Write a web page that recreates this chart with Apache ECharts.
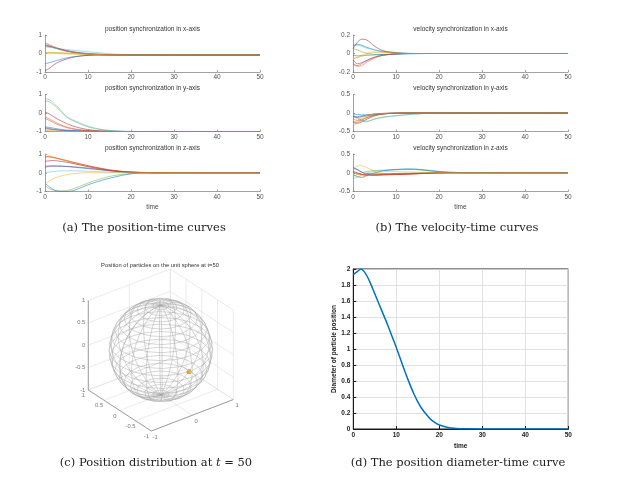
<!DOCTYPE html>
<html>
<head>
<meta charset="utf-8">
<script src="https://cdn.jsdelivr.net/npm/echarts@6/dist/echarts.min.js"></script>
<style>
  html, body { margin: 0; padding: 0; background: #fff; }
  #chart { width: 627px; height: 490px; }
</style>
</head>
<body>
<div id="chart"></div>
<script>
// sample times of the synchronization curves
var times = [0, 1, 2, 3, 5, 7, 10, 13, 16, 20, 25, 50];

// positions, one row per particle
var posX = [
  [0.40, 0.37, 0.32, 0.26, 0.16, 0.08, 0.00, -0.04, -0.06, -0.08, -0.08, -0.08],
  [0.50, 0.42, 0.33, 0.25, 0.12, 0.04, -0.03, -0.06, -0.07, -0.08, -0.08, -0.08],
  [0.01, 0.00, 0.00, -0.01, -0.03, -0.04, -0.06, -0.07, -0.08, -0.08, -0.08, -0.08],
  [0.45, 0.40, 0.33, 0.26, 0.14, 0.06, -0.02, -0.05, -0.07, -0.08, -0.08, -0.08],
  [0.05, 0.05, 0.04, 0.03, 0.01, -0.01, -0.04, -0.06, -0.07, -0.08, -0.08, -0.08],
  [0.35, 0.33, 0.30, 0.27, 0.22, 0.17, 0.10, 0.03, -0.03, -0.07, -0.08, -0.08],
  [-0.92, -0.80, -0.62, -0.48, -0.30, -0.18, -0.10, -0.08, -0.08, -0.08, -0.08, -0.08],
  [-0.55, -0.50, -0.43, -0.36, -0.24, -0.16, -0.10, -0.08, -0.08, -0.08, -0.08, -0.08],
  [0.58, 0.48, 0.38, 0.29, 0.15, 0.06, -0.02, -0.06, -0.07, -0.08, -0.08, -0.08],
  [0.05, 0.06, 0.06, 0.05, 0.03, 0.01, -0.03, -0.06, -0.07, -0.08, -0.08, -0.08]
];
var posY = [
  [-0.85, -0.88, -0.91, -0.93, -0.96, -0.98, -0.99, -1, -1, -1, -1, -1],
  [-0.20, -0.32, -0.45, -0.57, -0.75, -0.86, -0.95, -0.99, -1, -1, -1, -1],
  [-0.97, -0.97, -0.98, -0.98, -0.99, -0.99, -1, -1, -1, -1, -1, -1],
  [-0.80, -0.84, -0.88, -0.91, -0.95, -0.97, -0.99, -1, -1, -1, -1, -1],
  [0.66, 0.60, 0.44, 0.25, -0.22, -0.47, -0.75, -0.90, -0.97, -1, -1, -1],
  [0.77, 0.72, 0.55, 0.32, -0.18, -0.42, -0.71, -0.88, -0.96, -1, -1, -1],
  [0.05, -0.05, -0.20, -0.34, -0.57, -0.74, -0.90, -0.97, -0.99, -1, -1, -1],
  [-0.75, -0.78, -0.82, -0.86, -0.92, -0.95, -0.98, -0.99, -1, -1, -1, -1],
  [-0.30, -0.40, -0.52, -0.63, -0.79, -0.89, -0.96, -0.99, -1, -1, -1, -1],
  [-0.95, -0.96, -0.97, -0.98, -0.99, -1, -1, -1, -1, -1, -1, -1]
];
var posZ = [
  [0.35, 0.37, 0.37, 0.36, 0.33, 0.29, 0.22, 0.15, 0.08, 0.02, 0, 0],
  [0.85, 0.84, 0.80, 0.75, 0.64, 0.53, 0.37, 0.23, 0.12, 0.04, 0.01, 0],
  [1.00, 0.93, 0.84, 0.76, 0.61, 0.48, 0.32, 0.19, 0.09, 0.03, 0, 0],
  [0.30, 0.33, 0.35, 0.35, 0.34, 0.31, 0.25, 0.17, 0.09, 0.03, 0, 0],
  [-0.70, -0.85, -0.93, -0.97, -0.95, -0.82, -0.55, -0.32, -0.15, -0.04, 0, 0],
  [0.00, 0.04, 0.07, 0.09, 0.10, 0.10, 0.08, 0.05, 0.02, 0, 0, 0],
  [0.60, 0.64, 0.65, 0.63, 0.56, 0.47, 0.33, 0.21, 0.10, 0.03, 0, 0],
  [-0.55, -0.75, -0.90, -0.98, -1.00, -0.92, -0.64, -0.42, -0.24, -0.06, -0.01, 0],
  [0.85, 0.86, 0.82, 0.77, 0.66, 0.54, 0.38, 0.24, 0.12, 0.04, 0.01, 0],
  [-0.60, -0.45, -0.32, -0.22, -0.10, -0.04, 0, 0, 0, 0, 0, 0]
];

// velocities, one row per particle
var velX = [
  [0.08, 0.10, 0.09, 0.07, 0.04, 0.02, 0.005, 0, 0, 0, 0, 0],
  [-0.12, -0.13, -0.11, -0.08, -0.04, -0.015, -0.003, 0, 0, 0, 0, 0],
  [-0.06, -0.04, -0.02, 0, 0.02, 0.015, 0.005, 0, 0, 0, 0, 0],
  [-0.07, -0.11, -0.10, -0.08, -0.04, -0.02, -0.005, 0, 0, 0, 0, 0],
  [0.05, 0.04, 0.02, 0.005, -0.01, -0.01, -0.005, 0, 0, 0, 0, 0],
  [0.09, 0.09, 0.08, 0.06, 0.04, 0.025, 0.012, 0.004, 0, 0, 0, 0],
  [0.05, 0.12, 0.155, 0.15, 0.08, 0.03, 0.008, 0, 0, 0, 0, 0],
  [-0.02, -0.025, -0.025, -0.02, -0.015, -0.012, -0.008, -0.004, -0.001, 0, 0, 0],
  [-0.10, -0.14, -0.13, -0.10, -0.05, -0.02, -0.004, 0, 0, 0, 0, 0],
  [-0.05, -0.045, -0.03, -0.015, 0.01, 0.01, 0.004, 0, 0, 0, 0, 0]
];
var velY = [
  [-0.02, -0.04, -0.05, -0.05, -0.03, -0.015, -0.005, 0, 0, 0, 0, 0],
  [-0.22, -0.25, -0.20, -0.14, -0.06, -0.02, -0.005, 0, 0, 0, 0, 0],
  [-0.38, -0.25, -0.15, -0.10, -0.05, -0.02, -0.005, 0, 0, 0, 0, 0],
  [-0.08, -0.10, -0.08, -0.06, -0.03, -0.01, 0, 0, 0, 0, 0, 0],
  [-0.08, -0.15, -0.21, -0.24, -0.16, -0.11, -0.07, -0.04, -0.015, 0, 0, 0],
  [-0.05, -0.12, -0.19, -0.22, -0.17, -0.12, -0.08, -0.045, -0.02, -0.003, 0, 0],
  [-0.25, -0.28, -0.24, -0.18, -0.08, -0.03, -0.008, 0, 0, 0, 0, 0],
  [-0.10, -0.12, -0.10, -0.08, -0.04, -0.02, -0.005, 0, 0, 0, 0, 0],
  [-0.15, -0.20, -0.18, -0.13, -0.06, -0.02, -0.005, 0, 0, 0, 0, 0],
  [-0.30, -0.20, -0.12, -0.07, -0.03, -0.01, 0, 0, 0, 0, 0, 0]
];
var velZ = [
  [0.14, 0.09, 0.02, -0.03, -0.04, -0.04, -0.03, -0.02, -0.01, 0, 0, 0],
  [0.00, -0.03, -0.05, -0.06, -0.06, -0.05, -0.045, -0.035, -0.02, -0.005, 0, 0],
  [0.10, 0.18, 0.19, 0.15, 0.04, -0.02, -0.03, -0.02, -0.01, 0, 0, 0],
  [0.12, 0.08, 0.02, -0.02, -0.03, -0.03, -0.02, -0.015, -0.01, 0, 0, 0],
  [-0.10, -0.05, 0.00, 0.03, 0.06, 0.07, 0.08, 0.09, 0.07, 0.02, 0, 0],
  [-0.16, -0.12, -0.06, -0.01, 0.04, 0.06, 0.08, 0.10, 0.09, 0.04, 0.005, 0],
  [0.04, 0.00, -0.04, -0.06, -0.07, -0.06, -0.05, -0.04, -0.02, -0.005, 0, 0],
  [-0.05, -0.10, -0.12, -0.08, 0.00, 0.05, 0.09, 0.10, 0.08, 0.03, 0.005, 0],
  [0.02, -0.02, -0.05, -0.06, -0.06, -0.05, -0.04, -0.03, -0.02, -0.005, 0, 0],
  [-0.04, -0.10, -0.13, -0.10, -0.02, 0.03, 0.03, 0.02, 0.01, 0, 0, 0]
];

// diameter of the particle positions
var diamT = [0, 1, 1.8, 2.5, 3.3, 4, 5, 6, 7, 8, 9, 10, 11, 12, 13, 14, 15, 16, 17, 18, 19, 20, 22, 24, 26, 30, 50];
var diamV = [1.93, 1.97, 2.0, 1.97, 1.90, 1.82, 1.69, 1.56, 1.43, 1.30, 1.16, 1.02, 0.87, 0.72, 0.58, 0.45, 0.34, 0.25, 0.18, 0.12, 0.08, 0.05, 0.02, 0.007, 0.002, 0, 0];

// 3d box ticks for the sphere plot
var ticksX = [-1, 0, 1];
var ticksY = [-1, -0.5, 0, 0.5, 1];
var ticksZ = [-1, -0.5, 0, 0.5, 1];
var sphereN = 20;

var colors = ['#0072BD', '#D95319', '#EDB120', '#7E2F8E', '#77AC30', '#4DBEEE', '#A2142F', '#0072BD', '#D95319', '#EDB120'];
var font = 'Liberation Sans, Arial, sans-serif';

var panels = [
  { title: 'position synchronization in x-axis', rows: posX, left: 45, top: 35, h: 37, lim: 1 },
  { title: 'position synchronization in y-axis', rows: posY, left: 45, top: 94.5, h: 37, lim: 1 },
  { title: 'position synchronization in z-axis', rows: posZ, left: 45, top: 154, h: 37.5, lim: 1, time: true },
  { title: 'velocity synchronization in x-axis', rows: velX, left: 353, top: 35, h: 37, lim: 0.2 },
  { title: 'velocity synchronization in y-axis', rows: velY, left: 353, top: 94.5, h: 37, lim: 0.5 },
  { title: 'velocity synchronization in z-axis', rows: velZ, left: 353, top: 154, h: 37.5, lim: 0.5, time: true }
];

// MATLAB default view az=-37.5, el=30, orthographic
function proj(p) {
  var az = -37.5 * Math.PI / 180, el = 30 * Math.PI / 180;
  var sx = p[0] * Math.cos(az) + p[1] * Math.sin(az);
  var sy = -p[0] * Math.sin(az) * Math.sin(el) + p[1] * Math.cos(az) * Math.sin(el) + p[2] * Math.cos(el);
  return [sx, sy];
}
function seg(list, a, b) {
  list.push(proj(a), proj(b), ['-', '-']);
}

var grids = [], xAxes = [], yAxes = [], series = [], graphics = [];

function txt(x, y, text, size, opts) {
  opts = opts || {};
  graphics.push({
    type: 'text', x: x, y: y, silent: true,
    style: Object.assign({
      text: text, fontSize: size, fontFamily: opts.family || font, fill: opts.fill || '#333',
      textAlign: 'center', textVerticalAlign: 'middle', align: 'center', verticalAlign: 'middle'
    }, opts.style || {})
  });
}

panels.forEach(function (p, gi) {
  grids.push({ left: p.left, top: p.top, width: 215, height: p.h });
  xAxes.push({
    gridIndex: gi, type: 'value', min: 0, max: 50, interval: 10,
    name: p.time ? 'time' : '', nameLocation: 'middle', nameGap: 12.5,
    nameTextStyle: { fontSize: 6.5, color: '#444', fontFamily: font },
    axisLine: { onZero: false, lineStyle: { color: '#8a8a8a', width: 0.8 } },
    axisTick: { inside: true, length: 2, lineStyle: { color: '#8a8a8a', width: 0.8 } },
    axisLabel: { fontSize: 6.5, color: '#555', margin: 2, fontFamily: font },
    splitLine: { show: false }
  });
  yAxes.push({
    gridIndex: gi, type: 'value', min: -p.lim, max: p.lim, interval: p.lim,
    axisLine: { show: true, lineStyle: { color: '#8a8a8a', width: 0.8 } },
    axisTick: { show: true, inside: true, length: 2, lineStyle: { color: '#8a8a8a', width: 0.8 } },
    axisLabel: { fontSize: 6.5, color: '#555', margin: 3, fontFamily: font },
    splitLine: { show: false }
  });
  p.rows.forEach(function (row, i) {
    series.push({
      type: 'line', xAxisIndex: gi, yAxisIndex: gi, smooth: 0.35, showSymbol: false,
      lineStyle: { width: 0.7, color: colors[i], opacity: 0.75 },
      data: times.map(function (t, k) { return [t, row[k]]; })
    });
  });
  txt(p.left + 107.5, p.top - 6, p.title, 6.5, { fill: '#333' });
});

// sphere plot (grid 6): 1 unit = 51.7 px, centre at (160.8, 350)
var u = 51.7;
grids.push({ left: 160.8 - 2 * u, top: 350 - 2 * u, width: 4 * u, height: 4 * u });
xAxes.push({ gridIndex: 6, type: 'value', min: -2, max: 2, show: false });
yAxes.push({ gridIndex: 6, type: 'value', min: -2, max: 2, show: false });

var boxGrid = [], boxAxes = [], wire = [];
ticksX.forEach(function (x) {
  seg(boxGrid, [x, -1, -1], [x, 1, -1]);
  seg(boxGrid, [x, 1, -1], [x, 1, 1]);
});
ticksY.forEach(function (y) {
  seg(boxGrid, [-1, y, -1], [1, y, -1]);
  seg(boxGrid, [1, y, -1], [1, y, 1]);
});
ticksZ.forEach(function (z) {
  seg(boxGrid, [-1, 1, z], [1, 1, z]);
  seg(boxGrid, [1, -1, z], [1, 1, z]);
});
seg(boxAxes, [-1, -1, -1], [1, -1, -1]);
seg(boxAxes, [-1, -1, -1], [-1, 1, -1]);
seg(boxAxes, [-1, 1, -1], [-1, 1, 1]);

for (var j = 0; j <= sphereN; j++) {
  var th = -Math.PI + 2 * Math.PI * j / sphereN;
  for (var k = 0; k <= sphereN; k++) {
    var ph = -Math.PI / 2 + Math.PI * k / sphereN;
    wire.push(proj([Math.cos(ph) * Math.cos(th), Math.cos(ph) * Math.sin(th), Math.sin(ph)]));
  }
  wire.push(['-', '-']);
}
for (var k2 = 1; k2 < sphereN; k2++) {
  var ph2 = -Math.PI / 2 + Math.PI * k2 / sphereN;
  for (var j2 = 0; j2 <= sphereN; j2++) {
    var th2 = -Math.PI + 2 * Math.PI * j2 / sphereN;
    wire.push(proj([Math.cos(ph2) * Math.cos(th2), Math.cos(ph2) * Math.sin(th2), Math.sin(ph2)]));
  }
  wire.push(['-', '-']);
}

series.push({
  type: 'line', xAxisIndex: 6, yAxisIndex: 6, showSymbol: false, silent: true,
  lineStyle: { color: '#e3e3e3', width: 0.7 }, data: boxGrid
});
series.push({
  type: 'line', xAxisIndex: 6, yAxisIndex: 6, showSymbol: false, silent: true,
  lineStyle: { color: '#a3a3a3', width: 0.45 }, data: wire
});
series.push({
  type: 'line', xAxisIndex: 6, yAxisIndex: 6, showSymbol: false, silent: true,
  lineStyle: { color: '#8a8a8a', width: 0.8 }, data: boxAxes
});

// tick labels of the 3d box
var tickLabels = [];
ticksZ.forEach(function (z) { tickLabels.push({ value: proj([-1, 1, z]), name: String(z), label: { position: 'left', distance: 3 } }); });
ticksY.forEach(function (y) { tickLabels.push({ value: proj([-1.12, y, -1.08]), name: String(y) }); });
ticksX.forEach(function (x) { tickLabels.push({ value: proj([x, -1.12, -1.08]), name: String(x) }); });
series.push({
  type: 'scatter', xAxisIndex: 6, yAxisIndex: 6, symbolSize: 0, silent: true,
  label: { show: true, position: 'inside', formatter: '{b}', fontSize: 5.8, color: '#555', fontFamily: font },
  data: tickLabels
});

// final particle positions at t = 50
var last = times.length - 1;
series.push({
  type: 'scatter', xAxisIndex: 6, yAxisIndex: 6, symbolSize: 4.5, silent: true,
  itemStyle: { color: '#F0A818' },
  data: posX.map(function (row, i) { return proj([row[last], posY[i][last], posZ[i][last]]); })
});
txt(160, 265.7, 'Position of particles on the unit sphere at t=50', 5.8, { fill: '#333' });

// diameter plot (grid 7)
grids.push({ left: 353.3, top: 269, width: 215, height: 160, show: true, borderColor: '#1a1a1a', borderWidth: 1 });
xAxes.push({
  gridIndex: 7, type: 'value', min: 0, max: 50, interval: 10,
  name: 'time', nameLocation: 'middle', nameGap: 14,
  nameTextStyle: { fontSize: 6.5, fontWeight: 'bold', color: '#222', fontFamily: font },
  axisLine: { onZero: false, lineStyle: { color: '#1a1a1a', width: 1 } },
  axisTick: { inside: true, length: 3, lineStyle: { color: '#1a1a1a' } },
  axisLabel: { fontSize: 6.5, fontWeight: 'bold', color: '#222', margin: 3, fontFamily: font },
  splitLine: { show: true, lineStyle: { color: '#d9d9d9', width: 0.8 } }
});
yAxes.push({
  gridIndex: 7, type: 'value', min: 0, max: 2, interval: 0.2,
  name: 'Diameter of particle position', nameLocation: 'middle', nameGap: 15,
  nameTextStyle: { fontSize: 6.5, fontWeight: 'bold', color: '#222', fontFamily: font },
  axisLine: { show: true, lineStyle: { color: '#1a1a1a', width: 1 } },
  axisTick: { show: true, inside: true, length: 3, lineStyle: { color: '#1a1a1a' } },
  axisLabel: { fontSize: 6.5, fontWeight: 'bold', color: '#222', margin: 3, fontFamily: font },
  splitLine: { show: true, lineStyle: { color: '#d9d9d9', width: 0.8 } }
});
series.push({
  type: 'line', xAxisIndex: 7, yAxisIndex: 7, smooth: 0.3, showSymbol: false,
  lineStyle: { color: '#0072BD', width: 1.5 },
  data: diamT.map(function (t, k) { return [t, diamV[k]]; })
});

// sub-figure captions
var capFont = 'DejaVu Serif, serif';
txt(144, 228, '(a) The position-time curves', 11.5, { family: capFont, fill: '#222' });
txt(457, 228, '(b) The velocity-time curves', 11.5, { family: capFont, fill: '#222' });
txt(156, 463, '(c) Position distribution at {i|t} = 50', 11.5, {
  family: capFont, fill: '#222',
  style: { rich: { i: { fontStyle: 'italic', fontSize: 11.5, fontFamily: capFont, fill: '#222', color: '#222' } } }
});
txt(458, 463, '(d) The position diameter-time curve', 11.5, { family: capFont, fill: '#222' });

var chart = echarts.init(document.getElementById('chart'));
chart.setOption({
  animation: false,
  backgroundColor: '#fff',
  grid: grids,
  xAxis: xAxes,
  yAxis: yAxes,
  series: series,
  graphic: graphics
});
</script>
</body>
</html>
